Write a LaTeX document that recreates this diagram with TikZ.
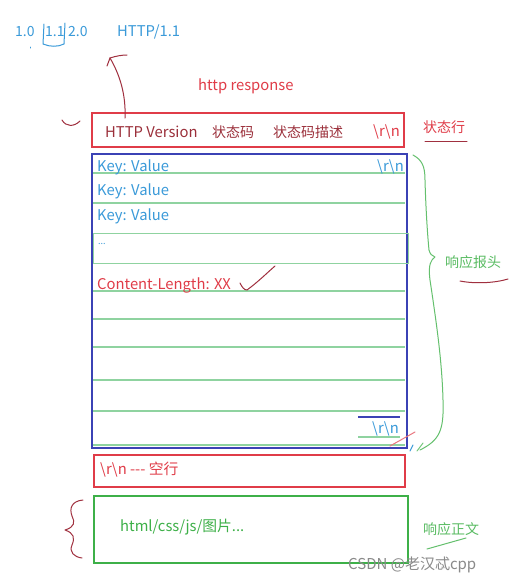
\documentclass[tikz,border=0pt]{standalone}
\usepackage{fontspec}
\setmainfont{Noto Sans CJK SC}
\definecolor{lblue}{HTML}{3A9AD9}
\definecolor{rred}{HTML}{E03C48}
\definecolor{maroon}{HTML}{A0303F}
\definecolor{dred}{HTML}{9B2F3A}
\definecolor{ggreen}{HTML}{3DB048}
\definecolor{lgreen}{HTML}{8FD3A0}
\definecolor{bblue}{HTML}{3B42B5}
\definecolor{wgray}{HTML}{8A8A8A}
\tikzset{
  txt/.style={anchor=west, inner sep=0pt, font=\fontsize{14.8}{16}\selectfont},
  txtc/.style={anchor=west, inner sep=0pt, font=\fontsize{14}{16}\selectfont},
  rowline/.style={draw=lgreen, line width=1.2pt},
  box/.style={anchor=north west, inner sep=0pt, line width=1.8pt},
  pen/.style={line width=1pt, line cap=round, line join=round},
}
\begin{document}
\begin{tikzpicture}[x=1pt,y=-1pt]
\useasboundingbox[fill=white] (0,0) rectangle (511,582);

% top versions
\node[txtc, text=lblue] (v10) at (15,32) {1.0};
\node[txtc, text=lblue] (v11) at (45,32) {1.1};
\node[txtc, text=lblue] (v20) at (68,32) {2.0};
\node[txt, text=lblue] (httpv) at (117,32) {HTTP/1.1};
\draw[pen, draw=lblue] (44,24) -- (43,44) .. controls (50,47) and (58,47) .. (64,44) -- (65,23);
\draw[pen, draw=lblue] (30,47) -- (30,48);

% http response
\node[txt, text=rred] (resp) at (198,86) {http response};

% status line box
\node[box, draw=rred, minimum width=312pt, minimum height=34pt] (statusbox) at (91,112) {};
\node[txt, text=dred] (hv) at (105,132) {HTTP Version};
\node[txtc, text=dred] (sc) at (212,132) {状态码};
\node[txtc, text=dred] (scd) at (273,132) {状态码描述};
\node[txt, text=rred] (crlf0) at (373,132) {\textbackslash r\textbackslash n};
\node[txtc, text=rred] (stl) at (423,127) {状态行};
\draw[pen, draw=maroon] (425,141) -- (467,141);

% arrow from HTTP version up to HTTP/1.1
\coordinate (arrs) at (125,118);
\coordinate (arrt) at (110,58);
\draw[pen, draw=maroon] (arrs) .. controls (126,95) and (120,75) .. (arrt);
\draw[pen, draw=maroon] (arrt) -- (107,66);
\draw[pen, draw=maroon] (arrt) .. controls (116,56) and (122,55) .. (127,55);
% small tick left
\draw[pen, draw=maroon] (62,120) .. controls (66,127) and (74,127) .. (80,121);

% header box
\node[box, draw=bblue, minimum width=315pt, minimum height=294pt] (hdrbox) at (91,153) {};
\foreach \yy in {173,203,291,319,347,380,411,445}{
  \draw[rowline] (93,\yy) -- (405,\yy);
}
\node[box, draw=lgreen, line width=1.2pt, minimum width=315pt, minimum height=30pt] (dotsbox) at (93,233) {};
\node[txt, text=lblue] (kv1) at (97,167) {Key: Value};
\node[txt, text=lblue] (kv2) at (97,191) {Key: Value};
\node[txt, text=lblue] (kv3) at (97,216) {Key: Value};
\node[txt, text=lblue] (crlf1) at (377,167) {\textbackslash r\textbackslash n};
\node[anchor=west, inner sep=0pt, text=lblue, font=\fontsize{9}{10}\selectfont] (dots) at (98,244) {...};
\node[txt, text=rred] (cl) at (97,285) {Content-Length: XX};
\draw[pen, draw=maroon] (240,283) .. controls (242,287) and (244,290) .. (247,290) .. controls (258,282) and (268,272) .. (275,266);
\draw[line width=1.2pt, draw=bblue] (358,417) -- (400,417);
\draw[line width=1.2pt, draw=lgreen] (358,437) -- (400,437);
\node[txt, text=lblue] (crlf2) at (372,429) {\textbackslash r\textbackslash n};
\draw[pen, draw=rred!70] (390,446) -- (415,432);
\draw[pen, draw=lblue] (410,451) -- (413,445);
\draw[pen, draw=ggreen!70] (417,451) -- (423,443);

% green brace
\draw[pen, draw=ggreen!80] (413,155) .. controls (422,160) and (425,166) .. (425,180)
  .. controls (426,215) and (428,240) .. (429,250) .. controls (430,254) and (432,256) .. (435,257)
  .. controls (431,260) and (428,264) .. (430,280) .. controls (436,320) and (442,360) .. (443,400)
  .. controls (444,430) and (440,440) .. (420,450);
\node[txtc, text=ggreen!85] (hdrl) at (445,262) {响应报头};
\draw[pen, draw=maroon] (460,281) .. controls (475,284) and (495,283) .. (508,279);

% blank line box
\node[box, draw=rred, minimum width=311pt, minimum height=32pt] (blankbox) at (93,454) {};
\node[txt, text=rred] (bl) at (100,470) {\textbackslash r\textbackslash n -{}-{}- 空行};

% body box
\node[box, draw=ggreen, minimum width=314pt, minimum height=67pt] (bodybox) at (93,495) {};
\node[txt, text=ggreen] (body) at (120,527) {html/css/js/图片...};
\node[txtc, text=ggreen!85] (bodyl) at (423,529) {响应正文};
\draw[pen, draw=ggreen!80] (427,549) -- (466,538);
% maroon brace left
\draw[pen, draw=maroon] (83,500) .. controls (72,501) and (69,508) .. (72,516)
  .. controls (75,522) and (75,527) .. (65,530)
  .. controls (74,533) and (75,538) .. (72,545)
  .. controls (69,552) and (74,557) .. (82,558);

% watermark
\node[anchor=west, inner sep=0pt, text=wgray, font=\fontsize{15}{17}\selectfont] (wm) at (348,565) {CSDN @老汉忒cpp};
\end{tikzpicture}
\end{document}
